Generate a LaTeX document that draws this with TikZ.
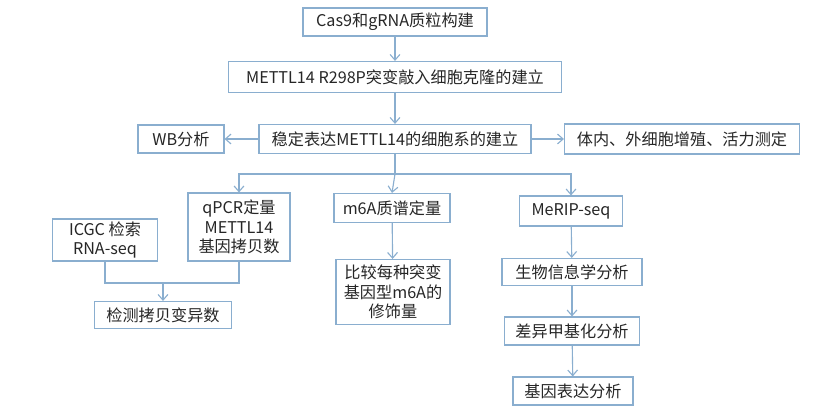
\documentclass[tikz,border=0pt]{standalone}
\usepackage{fontspec}
\setmainfont{Noto Sans CJK SC}
\usetikzlibrary{arrows.meta}
\definecolor{bd}{HTML}{8AAECF}
\tikzset{box/.style={draw=bd,line width=0.8pt,align=center,inner sep=0pt,font=\fontsize{11.5}{14}\selectfont,text=black!85},
arr/.style={draw=bd,line width=0.8pt,-{Straight Barb[length=4pt,width=7pt]}},
ln/.style={draw=bd,line width=0.8pt}}
\newcommand{\bx}[6]{\node[box,minimum width=#3*0.025cm,minimum height=#4*0.025cm] (#5) at (#1*0.025,-#2*0.025) {#6};}
\begin{document}
\begin{tikzpicture}
\useasboundingbox (0,0) rectangle (825*0.025,-420*0.025);
\bx{395}{22}{184}{28}{a}{Cas9和gRNA质粒构建}
\bx{395}{77}{333}{31}{b}{METTL14 R298P突变敲入细胞克隆的建立}
\bx{395}{139}{272}{29}{c}{稳定表达METTL14的细胞系的建立}
\bx{181}{139}{86}{28}{wb}{WB分析}
\bx{682}{139}{235}{30}{tn}{体内、外细胞增殖、活力测定}
\bx{239}{227}{102}{68}{q}{qPCR定量\\METTL14\\基因拷贝数}
\bx{392}{208}{116}{29}{m}{m6A质谱定量}
\bx{571}{211}{103}{30}{me}{MeRIP-seq}
\bx{105}{240}{105}{42}{ic}{ICGC 检索\\RNA-seq}
\bx{163}{315}{137}{27}{jc}{检测拷贝变异数}
\bx{393}{292}{114}{65}{bj}{比较每种突变\\基因型m6A的\\修饰量}
\bx{572}{272}{140}{27}{sw}{生物信息学分析}
\bx{572}{331}{135}{28}{cy}{差异甲基化分析}
\bx{573}{391}{120}{28}{jy}{基因表达分析}
\coordinate (h) at (395*0.025,-174*0.025);
\coordinate (mg) at (163*0.025,-283*0.025);
\draw[arr] (a) -- (b);
\draw[arr] (b) -- (c);
\draw[arr] (c) -- (wb);
\draw[arr] (c) -- (tn);
\draw[ln] (c.south) -- (h);
\draw[arr] (h) -| (q.north);
\draw[arr] (h) -- (m.north);
\draw[arr] (h) -| (me.north);
\draw[arr] (m) -- (bj);
\draw[arr] (me) -- (sw);
\draw[arr] (sw) -- (cy);
\draw[arr] (cy) -- (jy);
\draw[ln] (ic.south) |- (mg);
\draw[ln] (q.south) |- (mg);
\draw[arr] (mg) -- (jc.north);
\end{tikzpicture}
\end{document}
